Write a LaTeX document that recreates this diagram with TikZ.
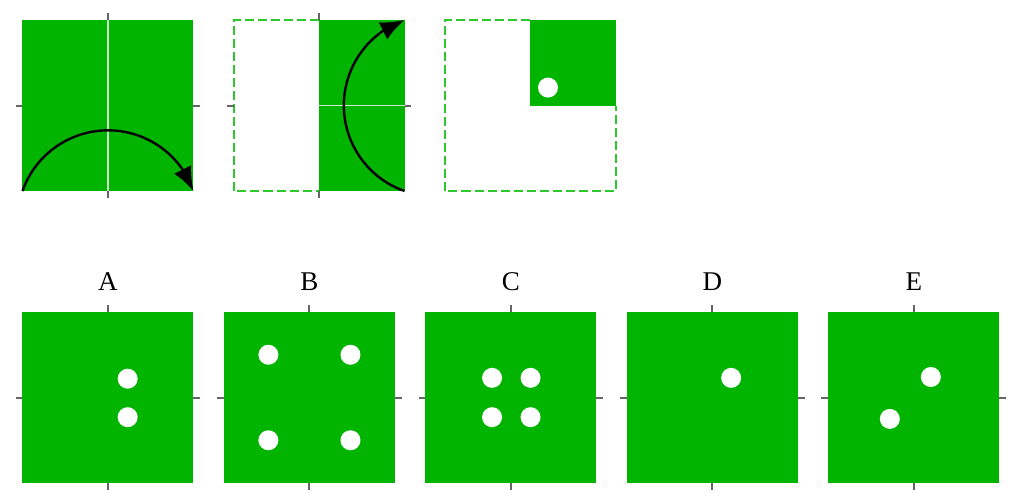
\documentclass[tikz,border=0pt]{standalone}
\usepackage{fontspec}
\setmainfont{Liberation Serif}
\usetikzlibrary{arrows.meta,bending}
\definecolor{xanhgiay}{RGB}{0,180,0}
\definecolor{xanhvien}{RGB}{45,200,45}
\definecolor{gap}{RGB}{205,232,205}

\begin{document}
\begin{tikzpicture}[x=1.5cm, y=1.5cm, >={Latex[length=12pt,width=9.5pt]},
    vach/.style={gray!80!black, line width=1pt},
    netdut/.style={draw=xanhvien, line width=1pt, dash pattern=on 4.5pt off 2pt},
    nepgap/.style={gap, line width=0.9pt},
    lo/.style={fill=white},
    muiten/.style={->, black, line width=1.2pt},
    nhan/.style={font=\fontsize{13.5}{15}\selectfont}]
    \useasboundingbox (-1.263,-1.199) rectangle (10.713,4.649);

    % 1. Hàng trên: các bước gấp tờ giấy
    % Bước 1: tờ giấy vuông, gấp đôi từ trái sang phải
    \fill[xanhgiay] (-1,2.415) rectangle (1,4.415);
    \draw[nepgap] (0,2.415) -- (0,4.415);
    \draw[vach] (0,4.415) -- (0,4.495) (0,2.415) -- (0,2.335)
                (-1,3.415) -- (-1.08,3.415) (1,3.415) -- (1.08,3.415);
    \draw[muiten] (-1,2.415) arc[start angle=160.7, end angle=19.3, radius=1.06];

    % Bước 2: nửa trái bỏ trống, gấp tiếp từ dưới lên trên
    \draw[netdut] (2.468,4.415) -- (1.468,4.415) -- (1.468,2.415) -- (2.468,2.415);
    \fill[xanhgiay] (2.468,2.415) rectangle (3.468,4.415);
    \draw[nepgap] (2.468,3.415) -- (3.468,3.415);
    \draw[vach] (2.468,4.415) -- (2.468,4.495) (2.468,2.415) -- (2.468,2.335)
                (1.468,3.415) -- (1.388,3.415) (3.468,3.415) -- (3.548,3.415);
    \draw[muiten] (3.468,2.415) arc[start angle=250.7, end angle=109.3, radius=1.06];

    % Bước 3: còn một phần tư, đục một lỗ
    \draw[netdut] (4.936,4.415) -- (3.936,4.415) -- (3.936,2.415) -- (5.936,2.415) -- (5.936,3.415);
    \fill[xanhgiay] (4.936,3.415) rectangle (5.936,4.415);
    \fill[lo] (5.146,3.625) circle (0.117);

    % 2. Hàng dưới: các phương án A, B, C, D, E
    \foreach \i/\ten in {0/A, 1/B, 2/C, 3/D, 4/E} {
        \pgfmathsetmacro{\cx}{\i*2.356}
        \fill[xanhgiay] (\cx-1,-1) rectangle (\cx+1,1);
        \draw[vach] (\cx,1) -- (\cx,1.08) (\cx,-1) -- (\cx,-1.08)
                    (\cx-1,0) -- (\cx-1.08,0) (\cx+1,0) -- (\cx+1.08,0);
        \node[nhan] (\ten) at (\cx,1.351) {\ten};
    }

    % Các lỗ trên từng phương án
    \foreach \p in {(0.23,0.22), (0.23,-0.23)} \fill[lo] \p circle (0.117);
    \foreach \p in {(1.876,0.5), (2.836,0.5), (1.876,-0.5), (2.836,-0.5)} \fill[lo] \p circle (0.117);
    \foreach \p in {(4.492,0.23), (4.942,0.23), (4.492,-0.23), (4.942,-0.23)} \fill[lo] \p circle (0.117);
    \fill[lo] (7.288,0.23) circle (0.117);
    \fill[lo] (9.624,0.24) circle (0.117);
    \fill[lo] (9.144,-0.25) circle (0.117);

\end{tikzpicture}
\end{document}
